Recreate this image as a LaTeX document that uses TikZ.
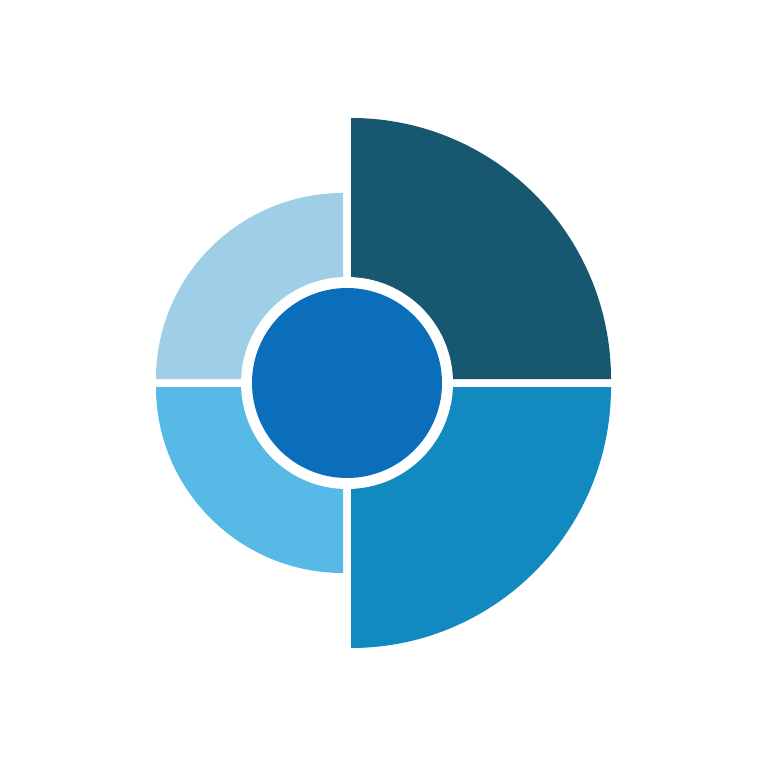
\documentclass[tikz,border=0pt]{standalone}
\definecolor{cTR}{HTML}{175770}
\definecolor{cBR}{HTML}{128ABF}
\definecolor{cTL}{HTML}{9ECFE7}
\definecolor{cBL}{HTML}{57B9E6}
\definecolor{cC}{HTML}{0B6EBA}
\begin{document}
\begin{tikzpicture}[x=0.03cm,y=-0.03cm]
\useasboundingbox[fill=white] (0,0) rectangle (768,768);
\coordinate (O) at (347,383);
% quarter sectors
\fill[cTR] (351,379) -- (351,118) arc[start angle=90,end angle=0,x radius=260,y radius=-261] -- cycle;
\fill[cBR] (351,387) -- (611,387) arc[start angle=0,end angle=-90,x radius=260,y radius=-261] -- cycle;
\fill[cTL] (343,379) -- (343,193) arc[start angle=90,end angle=180,x radius=187,y radius=-186] -- cycle;
\fill[cBL] (343,387) -- (156,387) arc[start angle=180,end angle=270,x radius=187,y radius=-186] -- cycle;
% centre
\fill[white] (O) circle[radius=106];
\fill[cC] (O) circle[radius=95];
\end{tikzpicture}
\end{document}
